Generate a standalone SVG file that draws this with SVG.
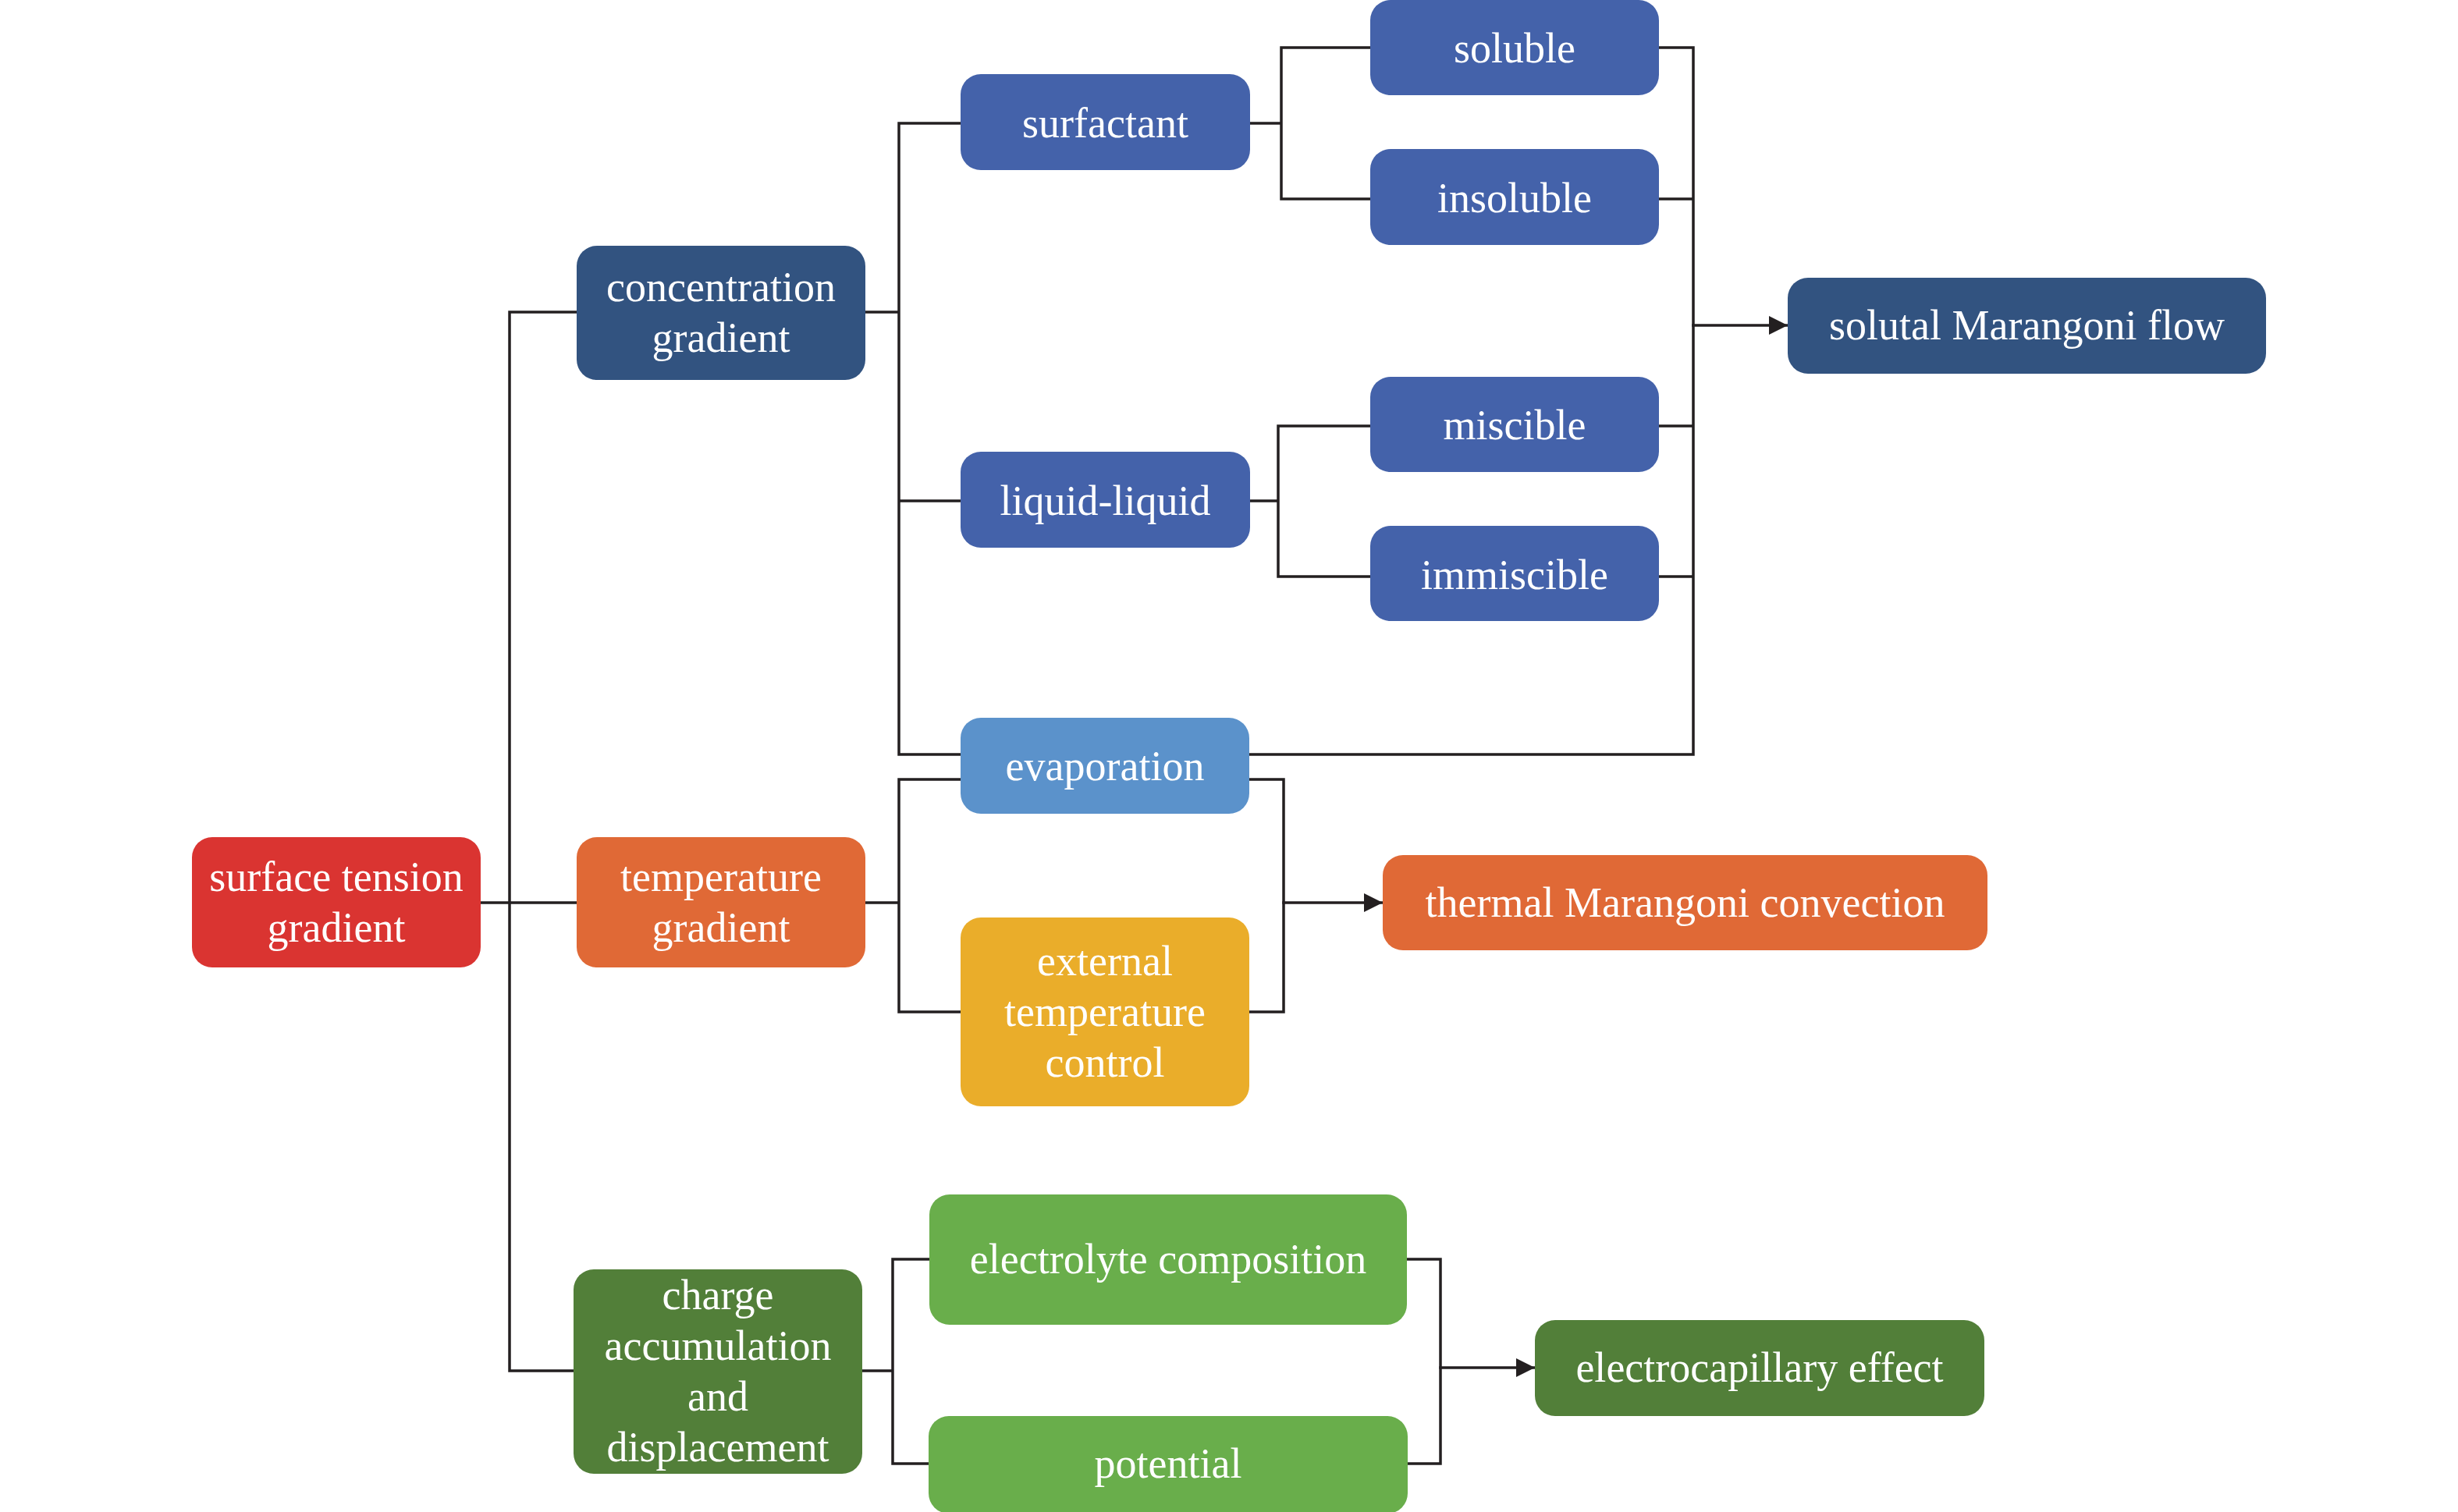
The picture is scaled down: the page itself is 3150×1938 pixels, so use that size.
<svg xmlns="http://www.w3.org/2000/svg" width="3150" height="1938" viewBox="0 0 3150 1938">
<style>
.ln{fill:none;stroke:#231F20;stroke-width:3.5;stroke-linecap:square;}
.t{font-family:"Liberation Serif","Times New Roman",serif;font-size:54px;fill:#FFFFFF;text-anchor:middle;}
.red{fill:#DA3431;}
.dblue{fill:#325380;}
.mblue{fill:#4462AA;}
.lblue{fill:#5B92CB;}
.orange{fill:#E06936;}
.yellow{fill:#EAAD2A;}
.dgreen{fill:#527F39;}
.green{fill:#69AE4B;}
</style>
<defs>
<marker id="arrow" markerUnits="userSpaceOnUse" markerWidth="24" markerHeight="24" viewBox="0 0 24 24" refX="24" refY="12" orient="auto">
<path d="M0,0 L24,12 L0,24 z" fill="#231F20"/>
</marker>
</defs>
<rect width="3150" height="1938" fill="#FFFFFF"/>
<g id="connectors">
<path class="ln" d="M616,1157 H739 M653,400 V1757 M653,400 H739 M653,1757 H735"/>
<path class="ln" d="M1109,400 H1152 M1152,158 V967 M1152,158 H1231 M1152,642 H1231 M1152,967 H1231"/>
<path class="ln" d="M1602,158 H1642 M1642,61 V255 M1642,61 H1756 M1642,255 H1756"/>
<path class="ln" d="M1602,642 H1638 M1638,546 V739 M1638,546 H1756 M1638,739 H1756"/>
<path class="ln" d="M2126,61 H2170 M2126,255 H2170 M2126,546 H2170 M2126,739 H2170 M1601,967 H2170 M2170,61 V967"/>
<path class="ln" d="M2170,417 H2291" marker-end="url(#arrow)"/>
<path class="ln" d="M1109,1157 H1152 M1152,999 V1297 M1152,999 H1231 M1152,1297 H1231 M1601,999 H1645 M1601,1297 H1645 M1645,999 V1297"/>
<path class="ln" d="M1645,1157 H1772" marker-end="url(#arrow)"/>
<path class="ln" d="M1105,1757 H1144 M1144,1614 V1876 M1144,1614 H1191 M1144,1876 H1190 M1803,1614 H1846 M1804,1876 H1846 M1846,1614 V1876"/>
<path class="ln" d="M1846,1753 H1967" marker-end="url(#arrow)"/>
</g>
<g id="surface-tension-gradient">
<rect class="red" x="246" y="1073" width="370" height="167" rx="26"/>
<text class="t" x="431" y="1142">surface tension</text>
<text class="t" x="431" y="1207">gradient</text>
</g>
<g id="concentration-gradient">
<rect class="dblue" x="739" y="315" width="370" height="172" rx="26"/>
<text class="t" x="924" y="386">concentration</text>
<text class="t" x="924" y="451">gradient</text>
</g>
<g id="temperature-gradient">
<rect class="orange" x="739" y="1073" width="370" height="167" rx="26"/>
<text class="t" x="924" y="1142">temperature</text>
<text class="t" x="924" y="1207">gradient</text>
</g>
<g id="charge-accumulation">
<rect class="dgreen" x="735" y="1627" width="370" height="262" rx="26"/>
<text class="t" x="920" y="1678">charge</text>
<text class="t" x="920" y="1743">accumulation</text>
<text class="t" x="920" y="1808">and</text>
<text class="t" x="920" y="1873">displacement</text>
</g>
<g id="surfactant">
<rect class="mblue" x="1231" y="95" width="371" height="123" rx="26"/>
<text class="t" x="1416.5" y="176">surfactant</text>
</g>
<g id="liquid-liquid">
<rect class="mblue" x="1231" y="579" width="371" height="123" rx="26"/>
<text class="t" x="1416.5" y="660">liquid-liquid</text>
</g>
<g id="evaporation">
<rect class="lblue" x="1231" y="920" width="370" height="123" rx="26"/>
<text class="t" x="1416" y="1000">evaporation</text>
</g>
<g id="external-temperature-control">
<rect class="yellow" x="1231" y="1176" width="370" height="242" rx="26"/>
<text class="t" x="1416" y="1250">external</text>
<text class="t" x="1416" y="1315">temperature</text>
<text class="t" x="1416" y="1380">control</text>
</g>
<g id="soluble">
<rect class="mblue" x="1756" y="0" width="370" height="122" rx="26"/>
<text class="t" x="1941" y="80">soluble</text>
</g>
<g id="insoluble">
<rect class="mblue" x="1756" y="191" width="370" height="123" rx="26"/>
<text class="t" x="1941" y="272">insoluble</text>
</g>
<g id="miscible">
<rect class="mblue" x="1756" y="483" width="370" height="122" rx="26"/>
<text class="t" x="1941" y="563">miscible</text>
</g>
<g id="immiscible">
<rect class="mblue" x="1756" y="674" width="370" height="122" rx="26"/>
<text class="t" x="1941" y="755">immiscible</text>
</g>
<g id="solutal-marangoni-flow">
<rect class="dblue" x="2291" y="356" width="613" height="123" rx="26"/>
<text class="t" x="2597.5" y="435">solutal Marangoni flow</text>
</g>
<g id="thermal-marangoni-convection">
<rect class="orange" x="1772" y="1096" width="775" height="122" rx="26"/>
<text class="t" x="2159.5" y="1175">thermal Marangoni convection</text>
</g>
<g id="electrolyte-composition">
<rect class="green" x="1191" y="1531" width="612" height="167" rx="26"/>
<text class="t" x="1497" y="1632">electrolyte composition</text>
</g>
<g id="potential">
<rect class="green" x="1190" y="1815" width="614" height="125" rx="26"/>
<text class="t" x="1497" y="1894">potential</text>
</g>
<g id="electrocapillary-effect">
<rect class="dgreen" x="1967" y="1692" width="576" height="123" rx="26"/>
<text class="t" x="2255" y="1771">electrocapillary effect</text>
</g>
</svg>
